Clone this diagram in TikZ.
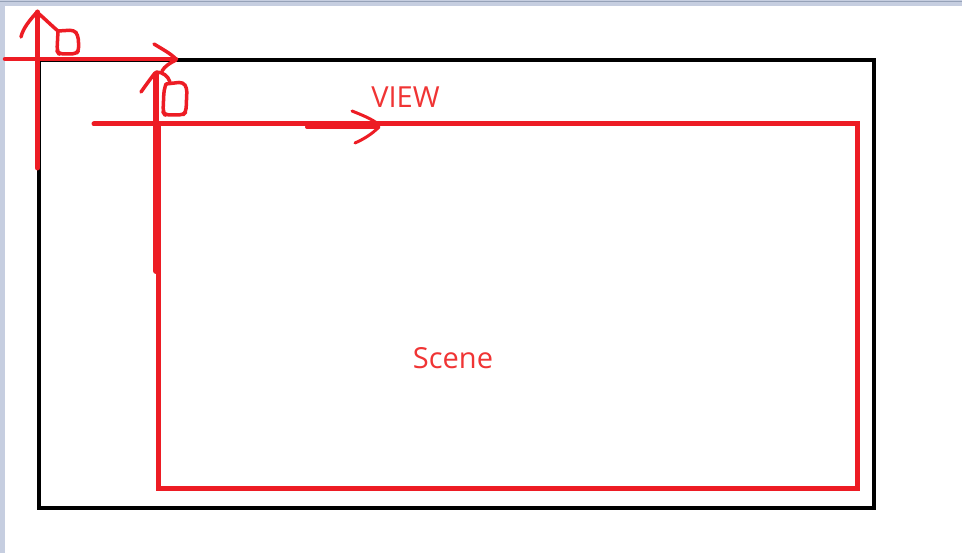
\documentclass[tikz,border=0pt]{standalone}
\usepackage{fontspec}
\setmainfont{Open Sans}
\definecolor{paintred}{RGB}{237,28,36}
\definecolor{textred}{RGB}{240,52,52}
\definecolor{winframe}{RGB}{198,206,224}
\definecolor{winline}{RGB}{150,162,184}
\tikzset{
  redpen/.style={draw=paintred,line cap=round,line join=round},
  label/.style={text=textred,inner sep=0pt,font=\fontsize{29}{34}\selectfont}
}
\begin{document}
\begin{tikzpicture}[x=1pt,y=-1pt]
\useasboundingbox (0,0) rectangle (962,553);
\fill[white] (0,0) rectangle (962,553);
% window frame
\fill[winframe] (0,0) rectangle (962,6);
\fill[winframe] (0,0) rectangle (4.7,553);
\draw[winline,line width=1pt] (0,1.5) -- (962,1.5);
% black outer rectangle
\draw[black,line width=4pt] (38.5,60) rectangle (874,508);
% red view rectangle
\draw[paintred,line width=5pt] (158.5,124) rectangle (857.5,488);
% first axes
\draw[redpen,line width=5pt] (37.5,168) -- (37.5,12);
\draw[redpen,line width=4.5pt] (5,59) -- (176,59);
\draw[redpen,line width=3.5pt] (21,37) .. controls (23,28) and (30,20) .. (37,12);
\draw[redpen,line width=3.5pt] (38,13) .. controls (45,19) and (52,26) .. (58,31);
\draw[redpen,line width=3.5pt] (154,44) .. controls (162,49) and (170,53) .. (176,59);
\draw[redpen,line width=3.5pt] (176,60) .. controls (170,63) and (165,66) .. (162,71);
% first zero
\draw[redpen,line width=3.5pt,rounded corners=4pt] (58,31) -- (74,30) -- (78,35) -- (79,50) -- (76,54) -- (59,54) -- (57,51) -- (58,31);
% second axes
\draw[redpen,line width=6pt] (156,74) -- (156,271);
\draw[redpen,line width=5pt] (94,124) -- (378,124);
\draw[redpen,line width=4pt] (307,127) -- (378,127);
\draw[redpen,line width=3.5pt] (141,92) .. controls (146,85) and (151,78) .. (155,73);
\draw[redpen,line width=3.5pt] (156,72) .. controls (163,72) and (168,76) .. (170,82);
\draw[redpen,line width=3pt] (352,111) .. controls (362,115) and (372,119) .. (378,124);
\draw[redpen,line width=3pt] (379,127) .. controls (372,134) and (364,139) .. (355,143);
% second zero
\draw[redpen,line width=3.5pt,rounded corners=4pt] (166,84) -- (183,82) -- (187,88) -- (186,112) -- (183,115) -- (165,115) -- (163,112) -- (164,90) -- (166,84);
% labels
\node[label] (view) at (405.5,97.5) {VIEW};
\node[label] (scene) at (453,358) {Scene};
\end{tikzpicture}
\end{document}
